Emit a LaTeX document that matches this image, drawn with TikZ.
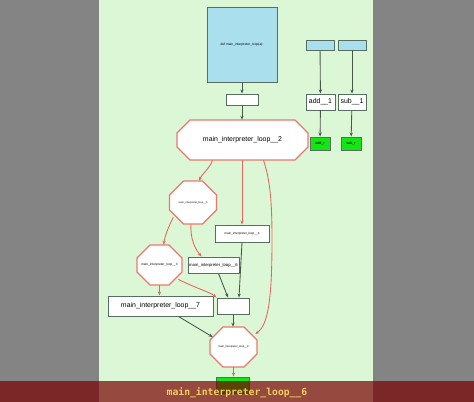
\documentclass[tikz,border=0pt]{standalone}
\usepackage{fontspec}
\setmainfont{Liberation Sans}
\newfontfamily\barfont{DejaVu Sans Mono}
\usetikzlibrary{arrows.meta,calc}
\definecolor{graybg}{RGB}{132,132,132}
\definecolor{panel}{RGB}{220,247,214}
\definecolor{boxblue}{RGB}{170,224,238}
\definecolor{boxedge}{RGB}{88,110,96}
\definecolor{octedge}{RGB}{232,120,110}
\definecolor{redge}{RGB}{226,104,94}
\definecolor{dedge}{RGB}{70,90,76}
\definecolor{bright}{RGB}{20,230,20}
\definecolor{barred}{RGB}{120,0,0}
\definecolor{bartext}{RGB}{240,206,96}
\newcommand\octshape[5]{\filldraw[fill=white,draw=octedge,line width=0.9pt]
 ({#1-#3/2+#5},{#2-#4/2}) -- ({#1+#3/2-#5},{#2-#4/2}) -- ({#1+#3/2},{#2-#4/2+#5}) -- ({#1+#3/2},{#2+#4/2-#5}) -- ({#1+#3/2-#5},{#2+#4/2}) -- ({#1-#3/2+#5},{#2+#4/2}) -- ({#1-#3/2},{#2+#4/2-#5}) -- ({#1-#3/2},{#2-#4/2+#5}) -- cycle;}
\begin{document}
\begin{tikzpicture}[x=0.75pt,y=-0.75pt,
 sz/.style 2 args={minimum width={#1*0.75pt}, minimum height={#2*0.75pt}},
 box/.style={draw=boxedge, line width=0.7pt, fill=white, inner sep=0pt},
 bluebox/.style={box, fill=boxblue},
 greenbox/.style={box, fill=bright},
 octn/.style={inner sep=0pt},
 darr/.style={draw=dedge, line width=0.65pt, -{Stealth[length=3pt,width=2.4pt]}},
 rarr/.style={draw=redge, line width=0.65pt, -{Stealth[length=3pt,width=2.4pt]}},
 big/.style={font=\fontsize{5.2}{6}\selectfont},
 tiny/.style={font=\fontsize{2.4}{3}\selectfont},
]
\useasboundingbox (0,0) rectangle (474,402);
\fill[graybg] (0,0) rectangle (474,402);
\fill[panel] (99,0) rectangle (373,402);

% nodes
\node[bluebox, sz={70}{75}, font=\fontsize{2.5}{3}\selectfont] (def) at (242,44.5) {def main\_interpreter\_loop(a):};
\node[box, sz={32}{11}] (e1) at (242,99.5) {};
\octshape{242.5}{140}{131}{40}{13}
\node[octn, sz={131}{40}, big] (o2) at (242.5,140) {main\_interpreter\_loop\_\_2};

\node[bluebox, sz={28}{10}] (b1) at (320,45) {};
\node[bluebox, sz={28}{10}] (b2) at (352,45) {};
\node[box, sz={29}{16}, big] (add) at (320.5,102) {add\_\_1};
\node[box, sz={28}{16}, big] (sub) at (352,102) {sub\_\_1};
\node[greenbox, sz={20}{13}, font=\fontsize{2.8}{3}\selectfont] (addr) at (320,143.5) {add\_r};
\node[greenbox, sz={20}{13}, font=\fontsize{2.8}{3}\selectfont] (subr) at (351,143.5) {sub\_r};

\octshape{193}{202.5}{47}{43}{14}
\node[octn, sz={47}{43}, font=\fontsize{1.9}{2}\selectfont] (o3) at (193,202.5) {main\_interpreter\_loop\_\_5};
\node[box, sz={54}{17}, font=\fontsize{2.3}{3}\selectfont] (r4) at (242,233.5) {main\_interpreter\_loop\_\_4};
\octshape{159.5}{265}{45}{40}{13}
\node[octn, sz={45}{40}, tiny] (o5) at (159.5,265) {main\_interpreter\_loop\_\_3};
\node[box, sz={51}{16}, font=\fontsize{3.2}{4}\selectfont] (r6) at (213.5,265) {main\_interpreter\_loop\_\_6};
\node[box, sz={105}{20}, big] (r7) at (160.5,306) {main\_interpreter\_loop\_\_7};
\node[box, sz={32}{16}] (e2) at (233,306) {};
\octshape{233.5}{347}{47}{40}{13}
\node[octn, sz={47}{40}, font=\fontsize{2}{2.5}\selectfont] (o8) at (233.5,347) {main\_interpreter\_loop\_\_8};
\node[greenbox, sz={33}{16}] (g) at (232.5,385) {};

% edges
\draw[darr] (def) -- (e1);
\draw[darr] (e1) -- (o2.north -| e1.south);
\draw[darr] (b1) -- (add);
\draw[darr] (b2) -- (sub);
\draw[darr] (add) -- (addr);
\draw[darr] (sub) -- (subr);

\draw[rarr] ($(o2.south)+(-30,0)$) .. controls (210,168) and (202,174) .. ($(o3.north)+(6,0)$);
\draw[rarr] (o2.south -| r4.north) -- (r4.north);
\draw[rarr] ($(o2.south)+(21,0)$) .. controls (270,180) and (272,200) .. (272,240) .. controls (272,300) and (268,325) .. ($(o8.east)+(-2,-13)$);
\draw[rarr] ($(o3.south west)+(4,-7)$) .. controls (168,228) and (165,236) .. ($(o5.north)+(4,0)$);
\draw[rarr] ($(o3.south)+(-2,0)$) .. controls (190,240) and (196,250) .. ($(r6.north west)+(14,0)$);
\draw[darr] (r4.south) -- ($(e2.north)+(6,0)$);
\draw[darr] ($(r6.south)+(5,0)$) -- ($(e2.north)+(-5,0)$);
\draw[rarr] (o5.south) -- (o5.south |- r7.north);
\draw[rarr] ($(o5.south east)+(-4,-6)$) .. controls (195,288) and (210,292) .. (e2.north west);
\draw[darr] ($(r7.south east)+(-35,0)$) -- ($(o8.west)+(3,-10)$);
\draw[darr] (e2) -- (o8.north -| e2.south);
\draw[rarr] (o8.south) -- (o8.south |- g.north);

% status bar
\fill[barred, opacity=0.7] (0,381) rectangle (474,402);
\node[font=\barfont\bfseries\fontsize{7.3}{8}\selectfont, text=bartext, inner sep=0pt] (title) at (237,392.5) {main\_interpreter\_loop\_\_6};
\end{tikzpicture}
\end{document}
